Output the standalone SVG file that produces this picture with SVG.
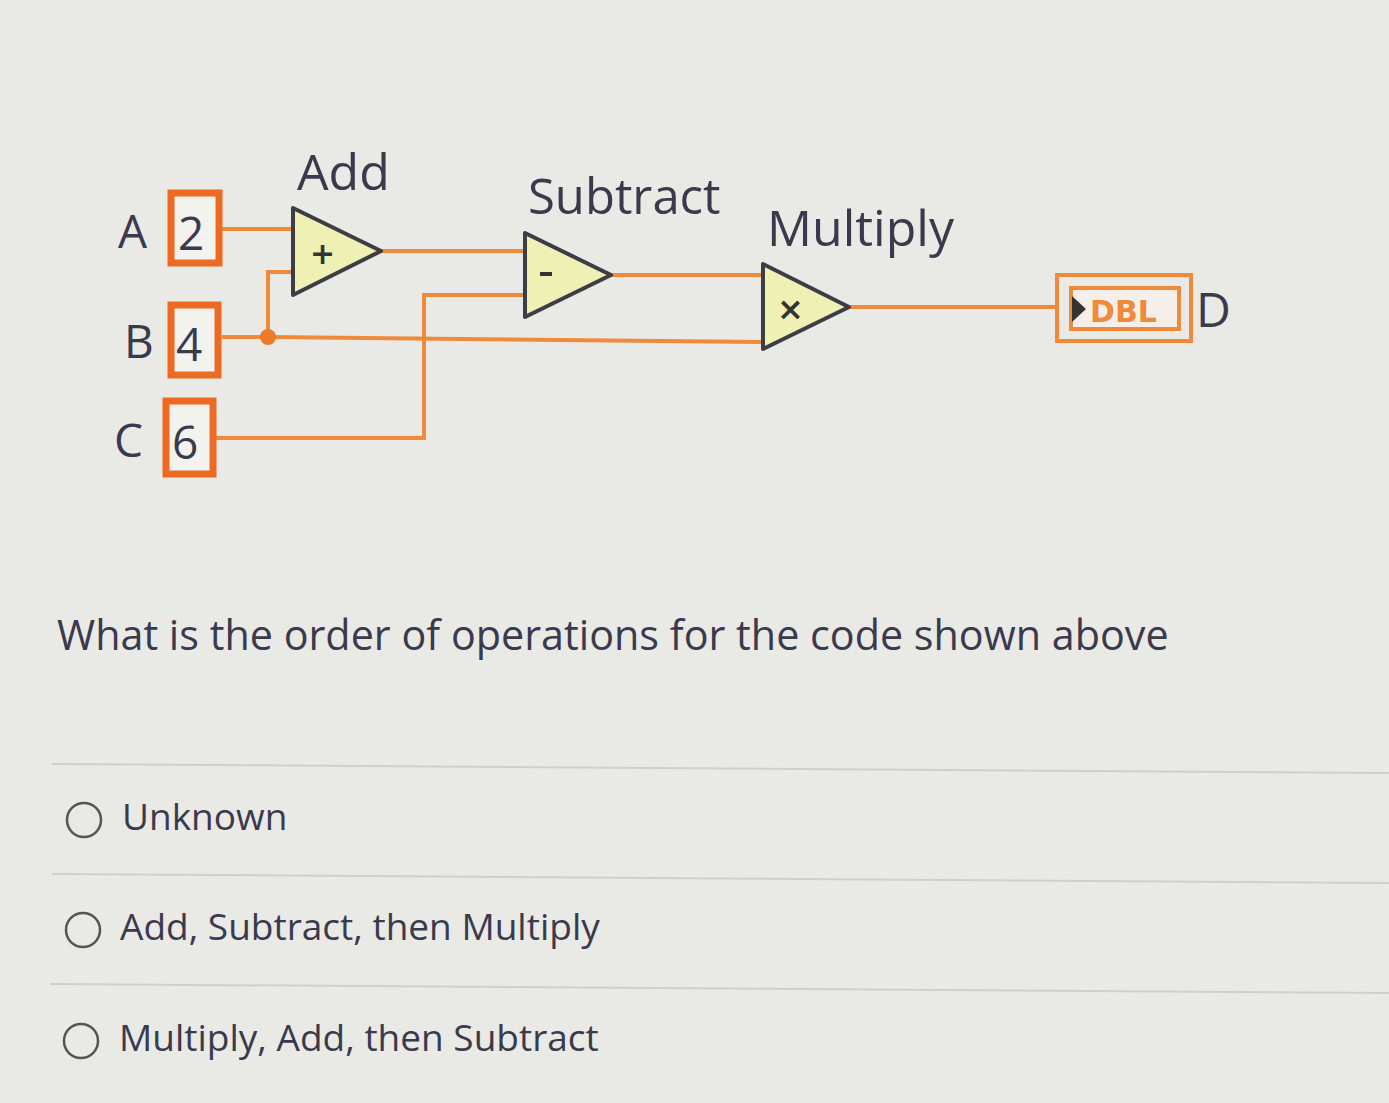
<svg xmlns="http://www.w3.org/2000/svg" width="1389" height="1103" viewBox="0 0 1389 1103">
<style>
.lbl{font-family:"Open Sans","DejaVu Sans",sans-serif;fill:#3b3a4c}
.box{fill:#f2f2ef;stroke:#ee6a22;stroke-width:7}
.w{fill:none;stroke:#ee8a3a;stroke-width:4}
.tri{fill:#eef0b4;stroke:#3d3d45;stroke-width:4;stroke-linejoin:round}
.sep{stroke:#cfcfcc;stroke-width:2}
.rad{fill:none;stroke:#555;stroke-width:2.5}
</style>
<rect width="1389" height="1103" fill="#e9e9e6"/>
<g id="connectors">
<path class="w" d="M222 229H292"/>
<path class="w" d="M222 337H268V272H292"/>
<path class="w" d="M268 337L762 342"/>
<path class="w" d="M382 251H524"/>
<path class="w" d="M216 438H424V295H524"/>
<path class="w" d="M612 275H762"/>
<path class="w" d="M850 307H1057"/>
<circle cx="268" cy="337" r="8" fill="#ee7a2a"/>
</g>
<g id="A"><text class="lbl" x="118" y="248" font-size="46">A</text><rect class="box" x="171" y="193" width="48" height="70"/><text class="lbl" x="178" y="250" font-size="46">2</text></g>
<g id="B"><text class="lbl" x="124" y="358" font-size="46">B</text><rect class="box" x="171" y="305" width="47" height="70"/><text class="lbl" x="176" y="361" font-size="46">4</text></g>
<g id="C"><text class="lbl" x="114" y="457" font-size="46">C</text><rect class="box" x="166" y="401" width="47" height="73"/><text class="lbl" x="172" y="459" font-size="46">6</text></g>
<g id="add"><text class="lbl" x="297" y="190" font-size="50">Add</text><polygon class="tri" points="293,208 293,295 381,251"/><text x="310" y="264" font-size="30" font-weight="bold" font-family="DejaVu Sans,sans-serif" fill="#333">+</text></g>
<g id="subtract"><text class="lbl" x="528" y="214" font-size="49">Subtract</text><polygon class="tri" points="525,233 525,317 611,275"/><rect x="540" y="272" width="12" height="4" fill="#333"/></g>
<g id="multiply"><text class="lbl" x="767" y="246" font-size="50">Multiply</text><polygon class="tri" points="763,264 763,349 849,307"/><text x="777" y="320" font-size="32" font-weight="bold" font-family="DejaVu Sans,sans-serif" fill="#333">×</text></g>
<g id="D">
<rect x="1057" y="275" width="134" height="66" fill="none" stroke="#ee8a3a" stroke-width="4"/>
<rect x="1071" y="288" width="108" height="41" fill="#f4efe8" stroke="#ee8a3a" stroke-width="4"/>
<polygon points="1072,296 1072,322 1086,309" fill="#333"/>
<text x="1090" y="322" font-size="30" font-weight="bold" font-family="DejaVu Sans,sans-serif" fill="#ee8a3a">DBL</text>
<text class="lbl" x="1196" y="327" font-size="48">D</text>
</g>
<text class="lbl" x="57" y="650" font-size="41.3">What is the order of operations for the code shown above</text>
<line class="sep" x1="52" y1="764" x2="1389" y2="773"/>
<line class="sep" x1="52" y1="874" x2="1389" y2="883"/>
<line class="sep" x1="50" y1="984" x2="1389" y2="993"/>
<g id="opt1"><circle class="rad" cx="84" cy="820" r="17"/><text class="lbl" x="122" y="830" font-size="37">Unknown</text></g>
<g id="opt2"><circle class="rad" cx="83" cy="930" r="17"/><text class="lbl" x="120" y="940" font-size="37">Add, Subtract, then Multiply</text></g>
<g id="opt3"><circle class="rad" cx="81" cy="1041" r="17"/><text class="lbl" x="119" y="1051" font-size="37">Multiply, Add, then Subtract</text></g>
</svg>
